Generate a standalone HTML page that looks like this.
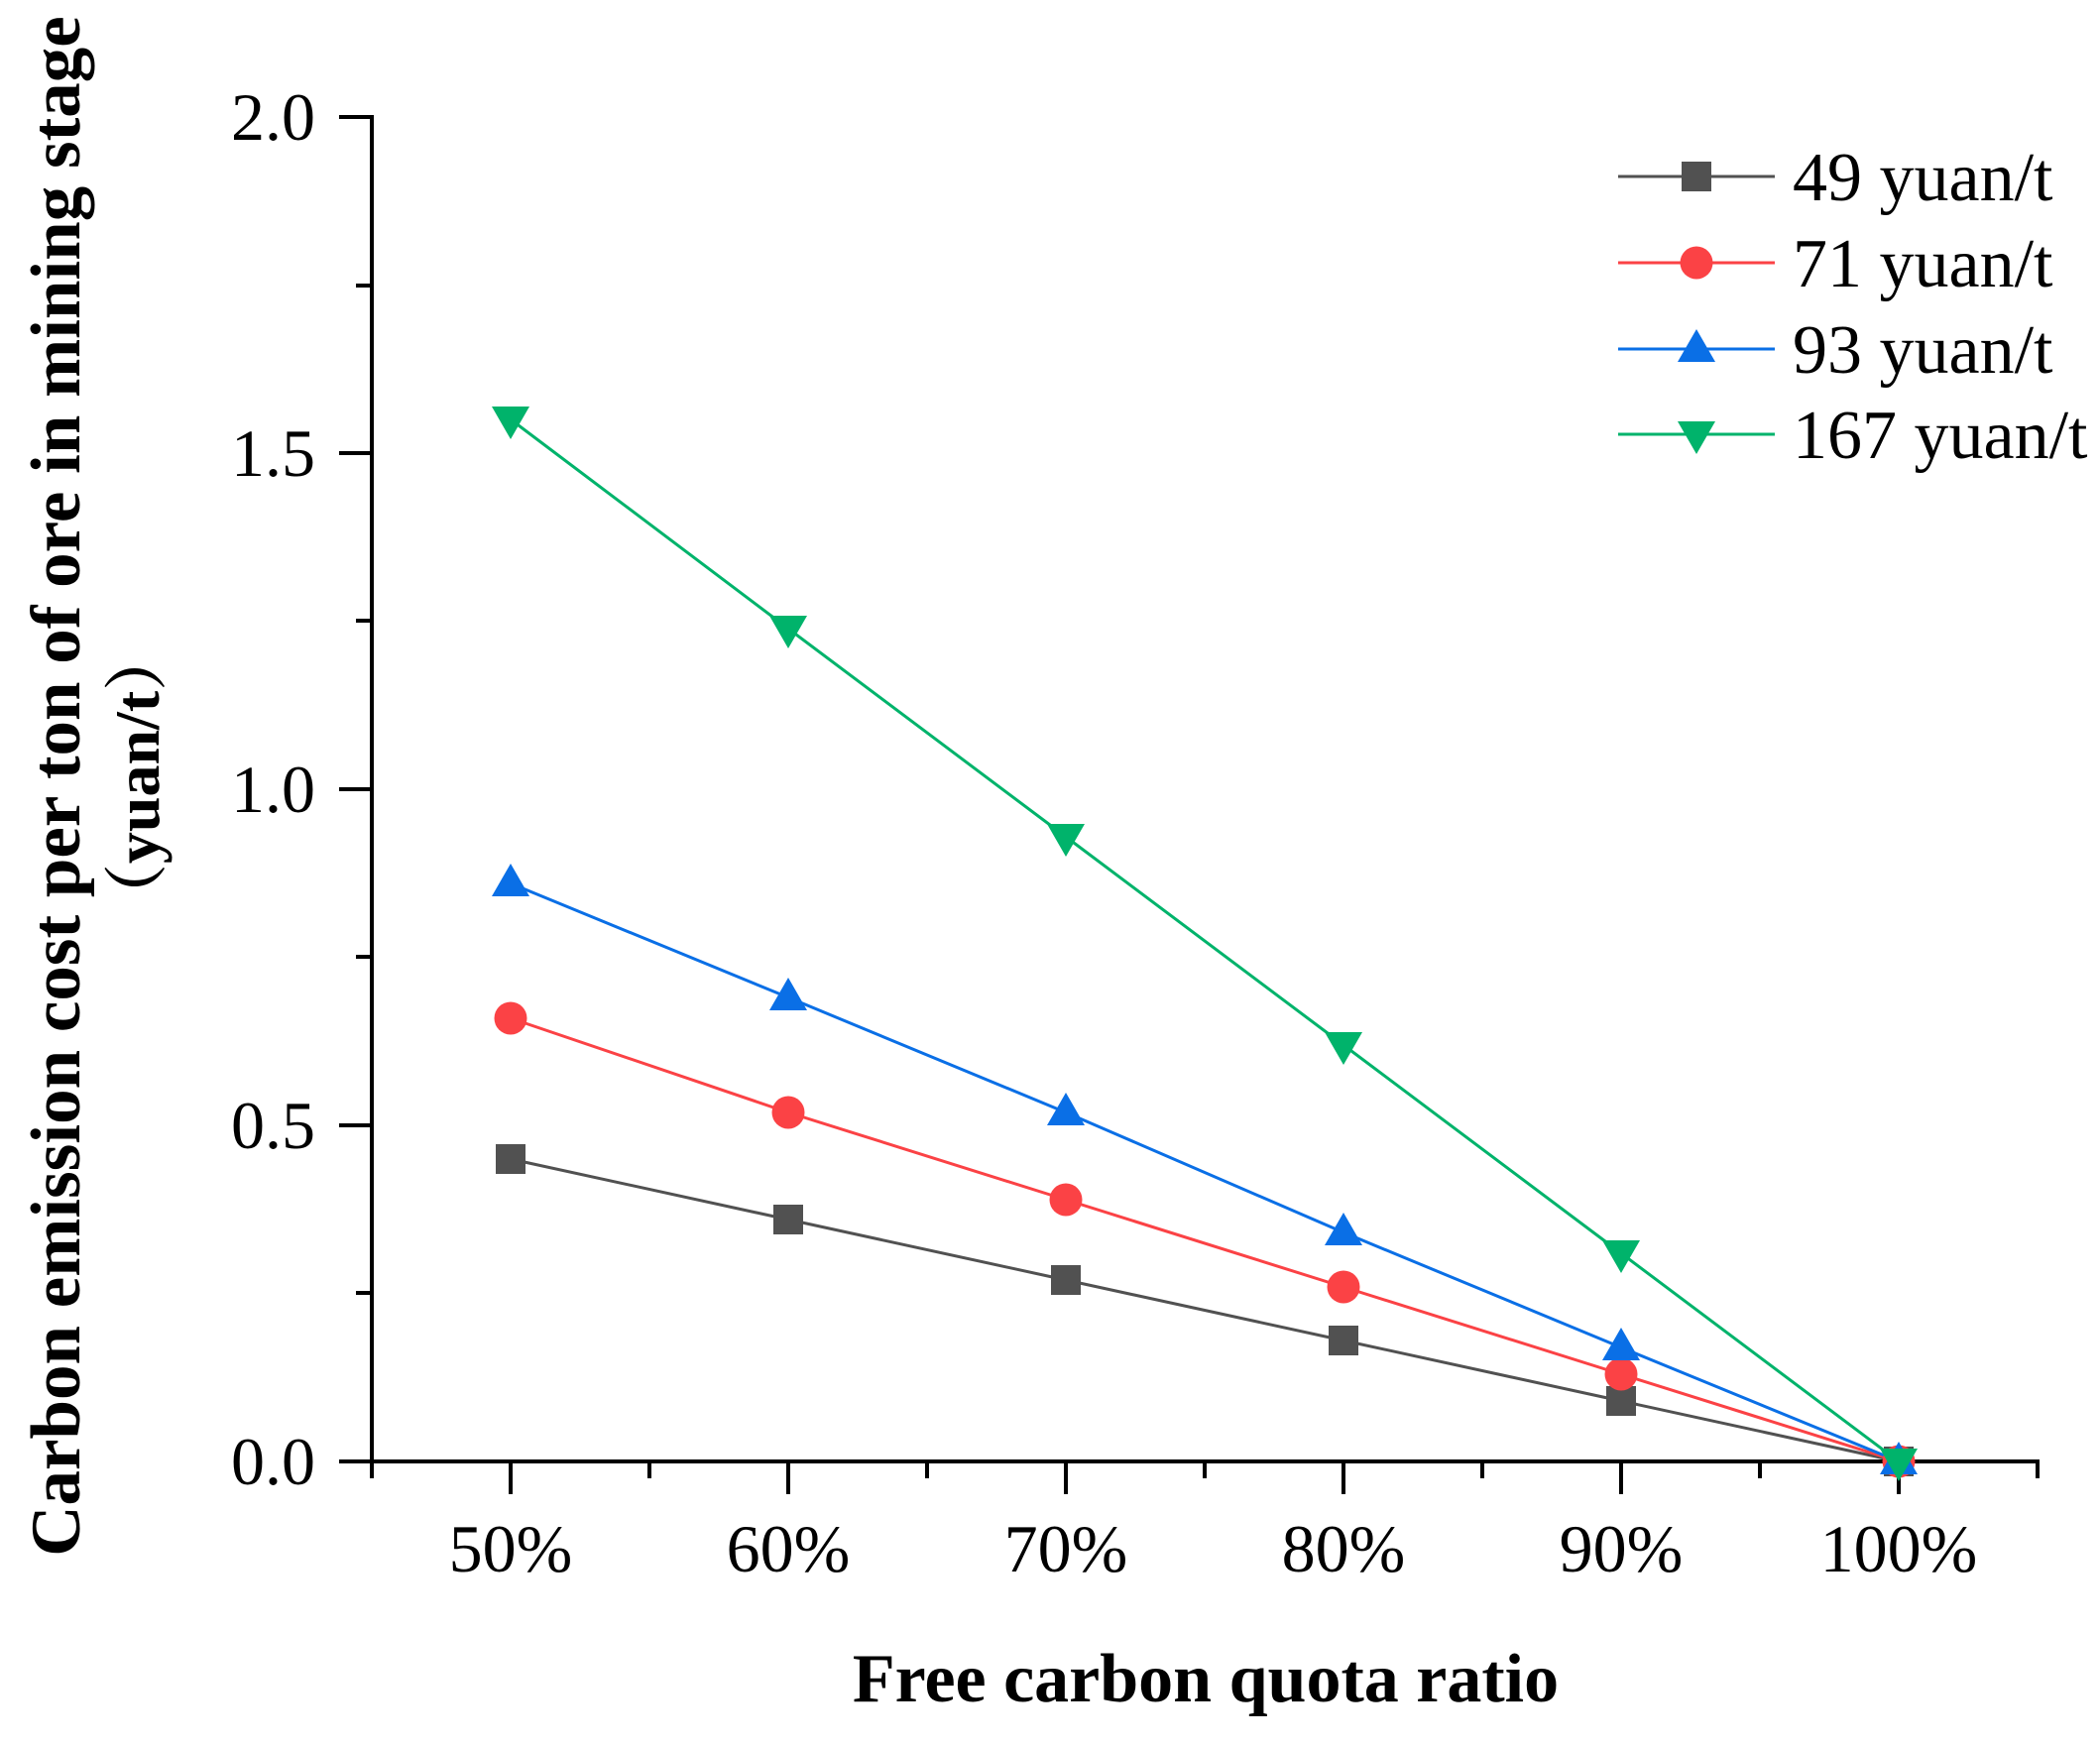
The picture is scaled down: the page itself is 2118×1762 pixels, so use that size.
<!DOCTYPE html>
<html><head><meta charset="utf-8"><style>body{margin:0;background:#fff}</style></head>
<body>
<svg width="2118" height="1757" viewBox="0 0 2118 1757" xmlns="http://www.w3.org/2000/svg" font-family="Liberation Serif, serif">
<rect width="2118" height="1757" fill="#fff"/>
<defs>
<rect id="sq" x="-15" y="-15" width="30" height="30" fill="#515151"/>
<circle id="ci" r="16.5" fill="#fb4245"/>
<polygon id="tu" points="0,-20 19,13 -19,13" fill="#0a6fe6"/>
<polygon id="td" points="0,20 19,-13 -19,-13" fill="#00b36b"/>
</defs>
<g stroke="#000" stroke-width="4" fill="none">
<line x1="375" y1="116" x2="375" y2="1476"/>
<line x1="373" y1="1474" x2="2057" y2="1474"/>
<line x1="342" y1="118" x2="375" y2="118"/>
<line x1="359" y1="288" x2="375" y2="288"/>
<line x1="342" y1="457" x2="375" y2="457"/>
<line x1="359" y1="626" x2="375" y2="626"/>
<line x1="342" y1="796" x2="375" y2="796"/>
<line x1="359" y1="965" x2="375" y2="965"/>
<line x1="342" y1="1135" x2="375" y2="1135"/>
<line x1="359" y1="1304" x2="375" y2="1304"/>
<line x1="342" y1="1474" x2="375" y2="1474"/>
<line x1="375" y1="1474" x2="375" y2="1491"/>
<line x1="515" y1="1474" x2="515" y2="1507"/>
<line x1="655" y1="1474" x2="655" y2="1491"/>
<line x1="795" y1="1474" x2="795" y2="1507"/>
<line x1="935" y1="1474" x2="935" y2="1491"/>
<line x1="1075" y1="1474" x2="1075" y2="1507"/>
<line x1="1215" y1="1474" x2="1215" y2="1491"/>
<line x1="1355" y1="1474" x2="1355" y2="1507"/>
<line x1="1495" y1="1474" x2="1495" y2="1491"/>
<line x1="1635" y1="1474" x2="1635" y2="1507"/>
<line x1="1775" y1="1474" x2="1775" y2="1491"/>
<line x1="1915" y1="1474" x2="1915" y2="1507"/>
<line x1="2055" y1="1474" x2="2055" y2="1491"/>
</g>
<g font-size="68" text-anchor="end" fill="#000">
<text x="318" y="141">2.0</text>
<text x="318" y="480">1.5</text>
<text x="318" y="819">1.0</text>
<text x="318" y="1158">0.5</text>
<text x="318" y="1497">0.0</text>
</g>
<g font-size="68" text-anchor="middle" fill="#000">
<text x="515" y="1585">50%</text>
<text x="795" y="1585">60%</text>
<text x="1075" y="1585">70%</text>
<text x="1355" y="1585">80%</text>
<text x="1635" y="1585">90%</text>
<text x="1915" y="1585">100%</text>
</g>
<text x="1216" y="1716" font-size="70" font-weight="bold" text-anchor="middle">Free carbon quota ratio</text>
<text transform="translate(80,793) rotate(-90)" font-size="71" font-weight="bold" text-anchor="middle">Carbon emission cost per ton of ore in mining stage</text>
<text transform="translate(160,784) rotate(-90)" font-size="64" font-weight="bold" text-anchor="middle" font-family="Liberation Serif, Noto Serif CJK SC, serif">（yuan/t）</text>
<g fill="none" stroke-width="3">
<polyline stroke="#515151" points="515,1169 795,1230 1075,1291 1355,1352 1635,1413 1915,1474"/>
<polyline stroke="#fb4245" points="515,1027 795,1122 1075,1210 1355,1298 1635,1386 1915,1474"/>
<polyline stroke="#0a6fe6" points="515,891 795,1006 1075,1122 1355,1243 1635,1359 1915,1474"/>
<polyline stroke="#00b36b" points="515,423 795,634 1075,844 1355,1054 1635,1264 1915,1474"/>
</g>
<use href="#sq" x="515" y="1169"/><use href="#sq" x="795" y="1230"/><use href="#sq" x="1075" y="1291"/><use href="#sq" x="1355" y="1352"/><use href="#sq" x="1635" y="1413"/><use href="#sq" x="1915" y="1474"/>
<use href="#ci" x="515" y="1027"/><use href="#ci" x="795" y="1122"/><use href="#ci" x="1075" y="1210"/><use href="#ci" x="1355" y="1298"/><use href="#ci" x="1635" y="1386"/><use href="#ci" x="1915" y="1474"/>
<use href="#tu" x="515" y="891"/><use href="#tu" x="795" y="1006"/><use href="#tu" x="1075" y="1122"/><use href="#tu" x="1355" y="1243"/><use href="#tu" x="1635" y="1359"/><use href="#tu" x="1915" y="1474"/>
<use href="#td" x="515" y="423"/><use href="#td" x="795" y="634"/><use href="#td" x="1075" y="844"/><use href="#td" x="1355" y="1054"/><use href="#td" x="1635" y="1264"/><use href="#td" x="1915" y="1474"/>
<g stroke-width="3">
<line x1="1632" y1="178" x2="1790" y2="178" stroke="#515151"/>
<line x1="1632" y1="265" x2="1790" y2="265" stroke="#fb4245"/>
<line x1="1632" y1="352" x2="1790" y2="352" stroke="#0a6fe6"/>
<line x1="1632" y1="438" x2="1790" y2="438" stroke="#00b36b"/>
</g>
<use href="#sq" x="1711" y="178"/><use href="#ci" x="1711" y="265"/><use href="#tu" x="1711" y="352"/><use href="#td" x="1711" y="438"/>
<g font-size="70" fill="#000">
<text x="1808" y="202">49 yuan/t</text>
<text x="1808" y="289">71 yuan/t</text>
<text x="1808" y="376">93 yuan/t</text>
<text x="1808" y="462">167 yuan/t</text>
</g>
</svg>
</body></html>
